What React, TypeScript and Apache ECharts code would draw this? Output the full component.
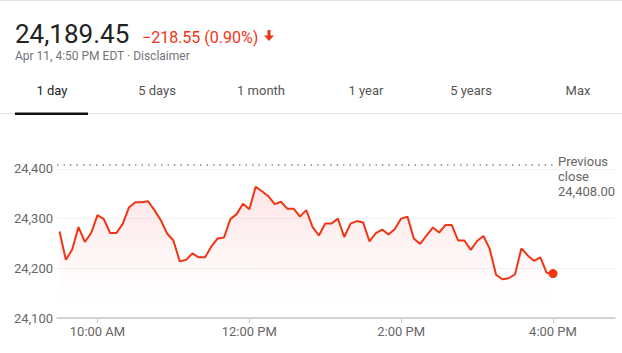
import React, { useEffect, useRef } from "react";
import * as echarts from "echarts";

// ---- data ----
const START_MIN = 570; // 9:30 AM
const STEP_MIN = 5;
const prices = [
  24274, 24217, 24238, 24283, 24253, 24271, 24307, 24299, 24271, 24271,
  24290, 24323, 24333, 24333, 24335, 24317, 24297, 24270, 24256, 24214,
  24217, 24230, 24222, 24222, 24244, 24260, 24262, 24299, 24309, 24330,
  24319, 24364, 24355, 24345, 24329, 24334, 24320, 24320, 24304, 24317,
  24283, 24266, 24290, 24290, 24300, 24263, 24290, 24295, 24292, 24254,
  24271, 24278, 24268, 24279, 24300, 24304, 24260, 24249, 24266, 24282,
  24272, 24287, 24287, 24256, 24256, 24237, 24255, 24265, 24239, 24187,
  24178, 24180, 24188, 24240, 24226, 24215, 24222, 24191, 24189.45,
];
const times = prices.map((_, i) => START_MIN + STEP_MIN * i);
const xTickValues = [600, 720, 840, 960];
const yTickLabels = [24100, 24200, 24300, 24400];
const PREV_CLOSE = 24408.0;
const lastPrice = "24,189.45";
const changeText = "\u2212218.55 (0.90%)";
const dateText = "Apr 11, 4:50 PM EDT \u00b7 Disclaimer";
const prevCloseLabel = "Previous\nclose\n24,408.00";
const tabs = ["1 day", "5 days", "1 month", "1 year", "5 years", "Max"];
const tabCenters = [52, 157, 261, 366, 471, 578];

const RED = "#f03514";
const FONT = "Roboto, Arial, sans-serif";

function fmtTime(m: number): string {
  const h = Math.floor(m / 60);
  const mm = m % 60;
  const ap = h >= 12 ? "PM" : "AM";
  const h12 = h % 12 === 0 ? 12 : h % 12;
  return `${h12}:${mm < 10 ? "0" + mm : mm} ${ap}`;
}

export default function App() {
  const ref = useRef<HTMLDivElement>(null);
  useEffect(() => {
    if (!ref.current) return;
    const chart = echarts.init(ref.current, undefined, { renderer: "svg" });
    const seriesData: any[] = prices.map((p, i) => {
      if (i === prices.length - 1) {
        return { value: [times[i], p], symbol: "circle", symbolSize: 9 };
      }
      return [times[i], p];
    });
    chart.setOption({
      animation: false,
      textStyle: { fontFamily: FONT },
      grid: { left: 57, right: 7, top: 154, bottom: 35 },
      xAxis: {
        type: "value",
        min: 568,
        max: 1009,
        axisLine: { show: true, lineStyle: { color: "#c8c8c8", width: 1.5 } },
        axisTick: {
          show: true,
          customValues: xTickValues,
          length: 5,
          lineStyle: { color: "#c8c8c8" },
        },
        axisLabel: {
          customValues: xTickValues,
          formatter: (v: number) => fmtTime(v),
          color: "#666",
          fontSize: 13,
          margin: 7,
          fontFamily: FONT,
        },
        splitLine: { show: false },
      },
      yAxis: {
        type: "value",
        min: 24100,
        max: 24430,
        interval: 100,
        axisLine: { show: false },
        axisTick: { show: false },
        axisLabel: {
          customValues: yTickLabels,
          formatter: (v: number) => v.toLocaleString("en-US"),
          color: "#666",
          fontSize: 13,
          margin: 4,
          fontFamily: FONT,
        },
        splitLine: {
          show: true,
          lineStyle: {
            color: ["#f2f2f2", "#f2f2f2", "#f2f2f2", "#f2f2f2", "rgba(0,0,0,0)"],
            width: 1,
          },
        },
      },
      series: [
        {
          type: "line",
          data: seriesData,
          symbol: "none",
          showAllSymbol: true,
          lineStyle: { color: RED, width: 2 },
          itemStyle: { color: RED },
          areaStyle: {
            color: new echarts.graphic.LinearGradient(0, 0, 0, 1, [
              { offset: 0, color: "rgba(240,50,60,0.18)" },
              { offset: 0.75, color: "rgba(240,50,60,0.02)" },
              { offset: 1, color: "rgba(255,255,255,0)" },
            ]),
          },
          markLine: {
            silent: true,
            symbol: "none",
            lineStyle: { color: "#888", type: [1.5, 5], width: 1.5 },
            label: { show: false },
            data: [
              [
                { coord: [568, PREV_CLOSE] },
                { coord: [960, PREV_CLOSE] },
              ],
            ],
          },
        },
      ],
      graphic: [
        {
          type: "line",
          shape: { x1: 0, y1: 0.5, x2: 622, y2: 0.5 },
          style: { stroke: "#e2e2e2", lineWidth: 1 },
        },
        {
          type: "text",
          style: {
            x: 15, y: 34, text: lastPrice, fill: "#222",
            font: `26px ${FONT}`, verticalAlign: "middle",
          },
        },
        {
          type: "text",
          style: {
            x: 142, y: 37, text: changeText, fill: RED,
            font: `16px ${FONT}`, verticalAlign: "middle",
          },
        },
        {
          type: "polygon",
          shape: {
            points: [
              [267.5, 30], [270.5, 30], [270.5, 35.5], [274, 35.5],
              [269, 41], [264, 35.5], [267.5, 35.5],
            ],
          },
          style: { fill: RED },
        },
        {
          type: "text",
          style: {
            x: 15, y: 55.5, text: dateText, fill: "#70757a",
            font: `12px ${FONT}`, verticalAlign: "middle",
          },
        },
        ...tabs.map((t, i) => ({
          type: "text",
          style: {
            x: tabCenters[i], y: 90.5, text: t,
            fill: i === 0 ? "#222" : "#555",
            font: `13px ${FONT}`, align: "center", verticalAlign: "middle",
          },
        })),
        {
          type: "line",
          shape: { x1: 0, y1: 113.5, x2: 622, y2: 113.5 },
          style: { stroke: "#e2e2e2", lineWidth: 1 },
        },
        {
          type: "rect",
          shape: { x: 15, y: 112.5, width: 73, height: 2.5 },
          style: { fill: "#111" },
        },
        {
          type: "text",
          style: {
            x: 558, y: 154, text: prevCloseLabel, fill: "#666",
            font: `13px ${FONT}`, lineHeight: 15, verticalAlign: "top",
          },
        },
      ],
    });
    return () => chart.dispose();
  }, []);
  return (
    <div
      ref={ref}
      style={{ position: "absolute", left: 0, top: 0, width: 622, height: 353 }}
    />
  );
}
